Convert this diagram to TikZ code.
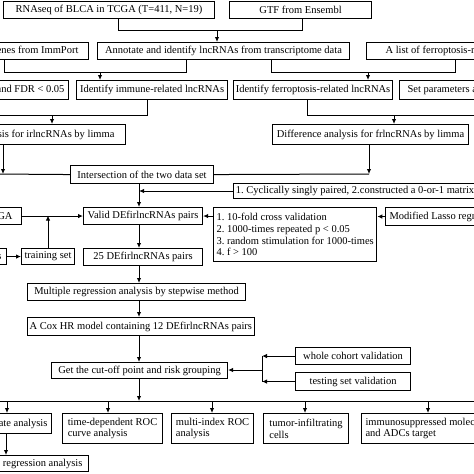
\documentclass[tikz,border=0pt]{standalone}
\usepackage{fontspec}
\setmainfont{Liberation Serif}
\usetikzlibrary{arrows.meta}
\frenchspacing
\begin{document}
\begin{tikzpicture}[x=1pt,y=-1pt,
  box/.style={draw,line width=1.1pt,inner xsep=2pt,inner ysep=0pt,font=\fontsize{10.5}{11.7}\selectfont\frenchspacing,text=black},
  nw/.style={box,anchor=north west},
  ne/.style={box,anchor=north east},
  ln/.style={line width=1pt},
  arr/.style={ln,-{Latex[length=5pt,width=4.5pt]}}]
\useasboundingbox (0,0) rectangle (474,474);
\fill[white] (0,0) rectangle (474,474);
\clip (0,0) rectangle (474,474);
% row 1
\node[nw,minimum width=211pt,minimum height=17.5pt] (A) at (3,0.5) {RNAseq of BLCA in TCGA (T=411, N=19)};
\node[nw,minimum width=142pt,minimum height=17.5pt] (B) at (229,0.5) {GTF from Ensembl};
% row 2
\node[ne,minimum height=17pt,inner xsep=10pt] (C) at (89,42) {Immune genes from ImmPort};
\node[nw,minimum width=252pt,minimum height=17pt] (D) at (97,42) {Annotate and identify lncRNAs from transcriptome data};
\node[nw,minimum height=17pt,inner xsep=19pt] (E) at (366,42) {A list of ferroptosis-related genes};
% row 3
\node[ne,minimum height=19pt,inner xsep=4pt] (F) at (69,80) {|logFC| > 1 and FDR < 0.05};
\node[nw,minimum width=151pt,minimum height=19pt] (G) at (76,80) {Identify immune-related lncRNAs};
\node[nw,minimum width=159pt,minimum height=19pt] (H) at (233,80) {Identify ferroptosis-related lncRNAs};
\node[nw,minimum height=19pt,inner xsep=8pt] (I) at (399,80) {Set parameters and filtering};
% row 4
\node[ne,minimum height=20pt,inner xsep=11pt] (J) at (126,124) {Difference analysis for irlncRNAs by limma};
\node[nw,minimum width=196pt,minimum height=20pt] (K) at (272,124) {Difference analysis for frlncRNAs by limma};
% intersection
\node[nw,minimum width=143pt,minimum height=18pt] (L) at (70,165) {Intersection of the two data set};
\node[nw,minimum width=243pt,minimum height=15pt] (M) at (233,183) {1. Cyclically singly paired, 2.constructed a 0-or-1 matrix};
% valid row
\node[nw,minimum width=119pt,minimum height=17pt] (N) at (83,207) {Valid DEfirlncRNAs pairs};
\node[ne,minimum height=17pt,inner xsep=9pt] (O) at (22,207) {Clinical data of TCGA};
\node[nw,minimum width=160pt,minimum height=54pt,inner xsep=3pt,align=left] (P) at (213,207) {1. 10-fold cross validation\\2. 1000-times repeated p < 0.05\\3. random stimulation for 1000-times\\4. f > 100};
\node[nw,minimum height=18pt,inner xsep=4pt] (Q) at (385,207) {Modified Lasso regression};
\node[nw,minimum width=53pt,minimum height=16pt] (R) at (21,248) {training set};
\node[ne,minimum height=16pt,inner xsep=5pt] (S) at (7,248) {All samples};
\node[nw,minimum width=119pt,minimum height=17pt] (T) at (83,248) {25 DEfirlncRNAs pairs};
\node[nw,minimum width=218pt,minimum height=17pt] (U) at (27,283) {Multiple regression analysis by stepwise method};
\node[nw,minimum width=226pt,minimum height=18pt] (V) at (27,317) {A Cox HR model containing 12 DEfirlncRNAs pairs};
\node[nw,minimum width=176pt,minimum height=16pt] (W) at (51,362) {Get the cut-off point and risk grouping};
\node[nw,minimum width=115pt,minimum height=17pt] (X) at (295,347) {whole cohort validation};
\node[nw,minimum width=115pt,minimum height=18pt] (Y) at (295,372) {testing set validation};
% bottom
\node[ne,minimum height=20pt,inner xsep=4pt] (Z1) at (52,413) {Univariate analysis};
\node[nw,minimum width=100pt,minimum height=30pt,align=left] (Z2) at (62,413) {time-dependent ROC\\curve analysis};
\node[nw,minimum width=82pt,minimum height=30pt,align=left] (Z3) at (171,413) {multi-index ROC\\analysis};
\node[nw,minimum width=85pt,minimum height=30pt,align=left] (Z4) at (263,413) {tumor-infiltrating\\cells};
\node[nw,minimum height=30pt,inner xsep=4pt,align=left] (Z5) at (361,413) {immunosuppressed molecules\\and ADCs target};
\node[ne,minimum height=16pt,inner xsep=6pt] (Z6) at (89,455) {Multivariate regression analysis};
% junction coordinates
\coordinate (a1) at (118,30); \coordinate (a2) at (302,30); \coordinate (a3) at (217,30);
\coordinate (b1) at (4,72); \coordinate (b2) at (186,72); \coordinate (b3) at (100,72);
\coordinate (b4) at (271,72); \coordinate (b5) at (455,72); \coordinate (b6) at (368,72);
\coordinate (c1) at (-5,115); \coordinate (c2) at (147,115); \coordinate (c3) at (52,115);
\coordinate (c4) at (307,115); \coordinate (c5) at (480,115); \coordinate (c6) at (394,115);
\coordinate (d0) at (-5,174); \coordinate (d1) at (3,174); \coordinate (d2) at (369,174);
\coordinate (jx) at (139,0);
\coordinate (e1) at (139,191); \coordinate (e2) at (48,215.5);
\coordinate (g1) at (262,370);
\coordinate (h0) at (-5,401); \coordinate (h9) at (480,401); \coordinate (hc) at (139,401);
\coordinate (h1) at (7,401); \coordinate (h2) at (108,401); \coordinate (h3) at (212,401);
\coordinate (h4) at (305,401); \coordinate (h5) at (428,401); \coordinate (k1) at (6,0);
% connectors
\draw[ln] (A.south -| a1) -- (a1) -- (a2) -- (B.south -| a2);
\draw[arr] (a3) -- (D.north -| a3);
\draw[ln] (C.south -| b1) -- (b1) -- (b2) -- (D.south -| b2);
\draw[arr] (b3) -- (G.north -| b3);
\draw[ln] (D.south -| b4) -- (b4) -- (b5) -- (E.south -| b5);
\draw[arr] (b6) -- (H.north -| b6);
\draw[ln] (F.south -| c1) -- (c1) -- (c2) -- (G.south -| c2);
\draw[arr] (c3) -- (J.north -| c3);
\draw[ln] (H.south -| c4) -- (c4) -- (c5) -- (I.south -| c5);
\draw[arr] (c6) -- (K.north -| c6);
\draw[arr] (J.south -| d1) -- (d1);
\draw[arr] (K.south -| d2) -- (d2);
\draw[ln] (d0) -- (L.west);
\draw[ln] (L.east) -- (d2);
\draw[arr] (L.south -| jx) -- (N.north -| jx);
\draw[arr] (M.west |- e1) -- (e1);
\draw[arr] (O.east) -- (N.west);
\draw[arr] (R.north -| e2) -- (e2);
\draw[arr] (S.east) -- (R.west);
\draw[arr] (P.west |- N.east) -- (N.east);
\draw[arr] (Q.west) -- (Q.west -| P.east);
\draw[arr] (N.south -| jx) -- (T.north -| jx);
\draw[arr] (T.south -| jx) -- (U.north -| jx);
\draw[arr] (U.south -| jx) -- (V.north -| jx);
\draw[arr] (V.south -| jx) -- (W.north -| jx);
\draw[arr] (X.west) -- (X.west -| g1);
\draw[arr] (Y.west) -- (Y.west -| g1);
\draw[ln] (X.west -| g1) -- (Y.west -| g1);
\draw[arr] (g1) -- (W.east |- g1);
\draw[arr] (W.south -| jx) -- (hc);
\draw[ln] (h0) -- (h9);
\draw[arr] (h1) -- (Z1.north -| h1);
\draw[arr] (h2) -- (Z2.north -| h2);
\draw[arr] (h3) -- (Z3.north -| h3);
\draw[arr] (h4) -- (Z4.north -| h4);
\draw[arr] (h5) -- (Z5.north -| h5);
\draw[arr] (Z1.south -| k1) -- (Z6.north -| k1);
\end{tikzpicture}
\end{document}
